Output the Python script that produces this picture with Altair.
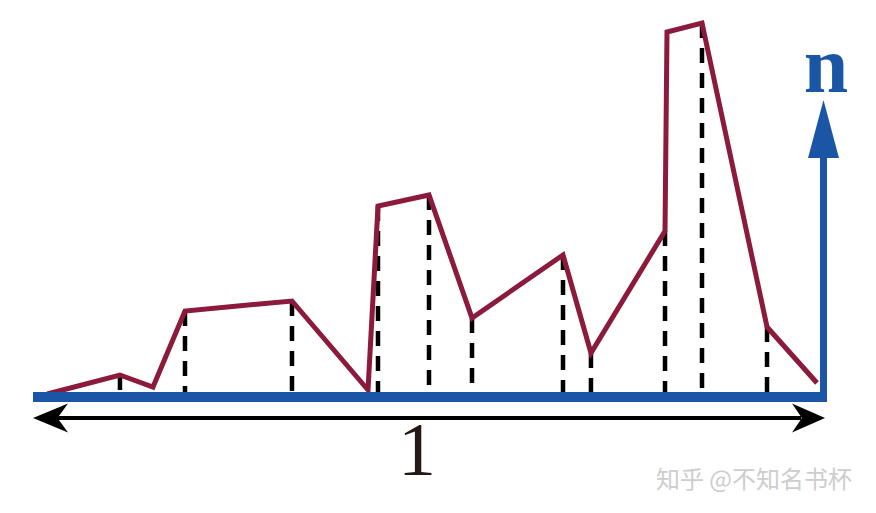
import altair as alt
import pandas as pd

# ---- data ----
# positions along the unit length (0..1) and the height of the curve n
xs = [0.0180, 0.1098, 0.1515, 0.1919, 0.3270, 0.4230, 0.4356, 0.5000,
      0.5543, 0.6692, 0.7045, 0.7980, 0.8005, 0.8447, 0.9268, 0.9899]
ns = [0.03, 0.22, 0.10, 0.86, 0.96, 0.07, 1.91, 2.02,
      0.79, 1.42, 0.44, 1.66, 3.65, 3.74, 0.70, 0.14]
dashed = [False, True, False, True, True, False, True, True,
          True, True, True, True, False, True, True, False]
length_label = ["1"]
axis_label = ["n"]
watermark = ["知乎 @不知名书杯"]

RED = "#8b1a3c"
BLUE = "#1a56a5"

df = pd.DataFrame({"i": list(range(len(xs))), "x": xs, "n": ns, "d": dashed})
df_d = df[df["d"]].copy()

X = alt.Scale(domain=[-0.031566, 1.054293], nice=False, zero=False)
Y = alt.Scale(domain=[-1.08, 3.89], nice=False, zero=False)

one = pd.DataFrame({"k": [0]})


def xq(v):
    return alt.X(datum=v, type="quantitative", scale=X, axis=None)


def yq(v):
    return alt.Y(datum=v, type="quantitative", scale=Y, axis=None)


dashes = alt.Chart(df_d).mark_rule(
    color="black", strokeWidth=4.5, strokeDash=[15, 10], strokeCap="butt"
).encode(
    x=alt.X("x:Q", scale=X, axis=None),
    y=alt.Y("n:Q", scale=Y, axis=None),
    y2=alt.datum(0),
)

poly = alt.Chart(df).mark_line(
    color=RED, strokeWidth=5, strokeJoin="miter"
).encode(
    x=alt.X("x:Q", scale=X, axis=None),
    y=alt.Y("n:Q", scale=Y, axis=None),
    order="i:Q",
)

baseline = alt.Chart(one).mark_rule(color=BLUE, strokeWidth=10, strokeCap="butt").encode(
    x=xq(0.0), x2=alt.datum(1.0025), y=yq(0.0)
)

stem = alt.Chart(one).mark_rule(color=BLUE, strokeWidth=7, strokeCap="butt").encode(
    x=xq(0.9981), y=yq(-0.05), y2=alt.datum(2.42)
)

up_head = alt.Chart(one).mark_point(
    shape="M0,-1L0.534,1L-0.534,1Z", size=3364, filled=True, opacity=1,
    color=BLUE, strokeWidth=0
).encode(x=xq(0.9981), y=yq(2.68))

len_line = alt.Chart(one).mark_rule(color="black", strokeWidth=4, strokeCap="butt").encode(
    x=xq(0.03), x2=alt.datum(0.97), y=yq(-0.21)
)

left_head = alt.Chart(one).mark_point(
    shape="M-1,0L1,-0.83L0.4,0L1,0.83Z", size=1225, filled=True, opacity=1,
    color="black", strokeWidth=0
).encode(x=xq(0.0221), y=yq(-0.21))

right_head = alt.Chart(one).mark_point(
    shape="M1,0L-1,-0.88L-0.4,0L-1,0.88Z", size=1089, filled=True, opacity=1,
    color="black", strokeWidth=0
).encode(x=xq(0.9792), y=yq(-0.21))

n_text = alt.Chart(pd.DataFrame({"t": axis_label})).mark_text(
    font="Liberation Serif", fontWeight="bold", fontSize=80, color=BLUE,
    align="center", baseline="alphabetic"
).encode(x=xq(1.0013), y=yq(3.05), text="t:N")

one_text = alt.Chart(pd.DataFrame({"t": length_label})).mark_text(
    font="Liberation Serif", fontSize=76, color="#231815",
    align="center", baseline="alphabetic"
).encode(x=xq(0.4848), y=yq(-0.78), text="t:N")

wm = alt.Chart(pd.DataFrame({"t": watermark})).mark_text(
    font="Noto Sans CJK SC", fontSize=24, color="#cdcdcd",
    align="right", baseline="alphabetic"
).encode(x=xq(1.0341), y=yq(-0.91), text="t:N")

chart = alt.layer(
    dashes, poly, baseline, stem, up_head, len_line, left_head, right_head,
    n_text, one_text, wm
).properties(
    width=860, height=497, padding=0, autosize="none", background="white"
).configure_view(stroke=None)

chart.save("out.html", embed_options={"renderer": "svg", "actions": False})
